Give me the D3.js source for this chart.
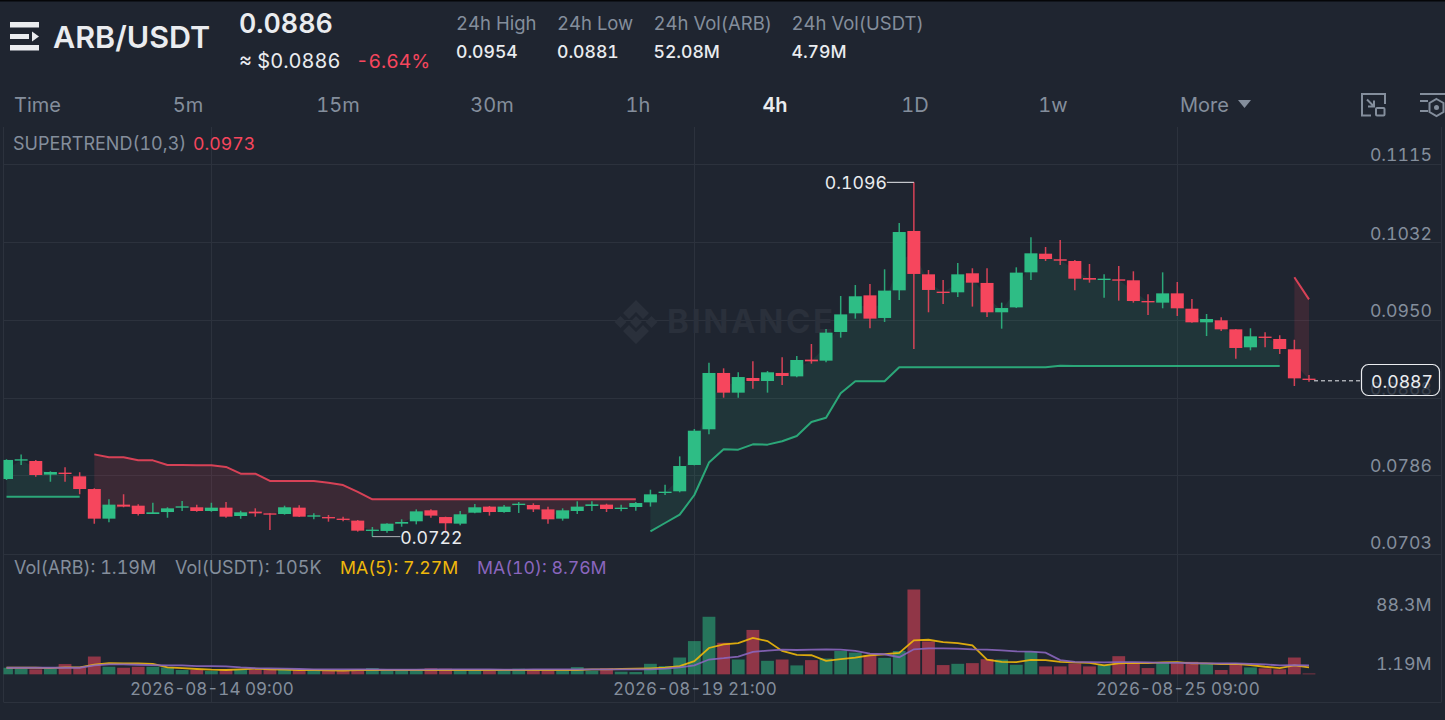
<!DOCTYPE html>
<html><head><meta charset="utf-8">
<style>
html,body{margin:0;padding:0;background:#1f2530;overflow:hidden}
text{font-family:Inter,"Noto Sans",sans-serif;font-feature-settings:"tnum"}
.axis path,.axis line{display:none}
</style>
<script src="https://cdn.jsdelivr.net/npm/d3@7/dist/d3.min.js"></script>
</head><body><svg id="c" width="1445" height="720"></svg>
<script>
const opens=[.07833,.08027,.08023,.07879,.07900,.07861,.07727,.07414,.07562,.07551,
.07463,.07484,.07530,.07534,.07495,.07530,.07442,.07488,.07470,.07463,
.07530,.07435,.07431,.07414,.07393,.07284,.07284,.07361,.07386,.07502,
.07431,.07361,.07477,.07541,.07484,.07558,.07558,.07512,.07414,.07495,
.07548,.07562,.07516,.07537,.07586,.07685,.07703,.07981,.08358,.08953,
.08745,.08900,.08868,.08953,.08917,.09094,.09083,.09386,.09583,.09773,
.09534,.09826,.10453,.09995,.09812,.09805,.10006,.09904,.09594,.09646,
.10016,.10213,.10154,.10136,.09956,.09935,.09942,.09932,.09713,.09696,
.09794,.09632,.09488,.09509,.09414,.09224,.09337,.09312,.09203,.08893];
const closes=[.08034,.08041,.07875,.07907,.07886,.07727,.07414,.07562,.07541,.07463,
.07481,.07523,.07544,.07495,.07530,.07435,.07481,.07470,.07456,.07534,
.07435,.07449,.07417,.07400,.07287,.07298,.07361,.07379,.07491,.07446,
.07365,.07460,.07534,.07484,.07541,.07572,.07512,.07407,.07502,.07541,
.07565,.07516,.07530,.07579,.07671,.07699,.07970,.08343,.08953,.08745,
.08910,.08868,.08960,.08921,.09090,.09076,.09379,.09572,.09763,.09527,
.09823,.10442,.09999,.09830,.09798,.09995,.09907,.09594,.09639,.10013,
.10217,.10157,.10139,.09949,.09939,.09949,.09928,.09713,.09699,.09794,
.09636,.09488,.09523,.09414,.09217,.09340,.09323,.09206,.08896,.08879];
const highs=[.08041,.08093,.08034,.07914,.07956,.07903,.07734,.07618,.07671,.07565,
.07583,.07534,.07600,.07562,.07583,.07590,.07498,.07523,.07470,.07551,
.07555,.07470,.07453,.07435,.07400,.07326,.07365,.07407,.07512,.07512,
.07435,.07495,.07569,.07548,.07558,.07590,.07576,.07541,.07523,.07597,
.07597,.07572,.07562,.07590,.07720,.07773,.08072,.08361,.09062,.09002,
.08960,.09076,.08974,.09118,.09132,.09259,.09418,.09766,.09882,.09893,
.10048,.10537,.10967,.10041,.09935,.10115,.10059,.10059,.09696,.10069,
.10386,.10284,.10358,.10146,.10104,.09995,.10083,.10027,.09784,.10016,
.09914,.09734,.09576,.09541,.09418,.09425,.09382,.09351,.09305,.08932];
const lows=[.07822,.07981,.07857,.07805,.07805,.07671,.07361,.07375,.07534,.07446,
.07463,.07424,.07495,.07488,.07488,.07424,.07414,.07435,.07294,.07456,
.07431,.07407,.07382,.07386,.07277,.07224,.07266,.07329,.07354,.07424,
.07277,.07343,.07470,.07446,.07477,.07474,.07484,.07361,.07393,.07463,
.07495,.07484,.07491,.07498,.07541,.07664,.07692,.07977,.08305,.08692,
.08692,.08787,.08745,.08826,.08907,.09051,.09065,.09326,.09527,.09425,
.09492,.09724,.09206,.09594,.09682,.09756,.09654,.09544,.09421,.09639,
.09935,.10136,.10094,.09826,.09907,.09748,.09717,.09696,.09565,.09636,
.09555,.09484,.09343,.09396,.09104,.09192,.09224,.09153,.08815,.08861];
const trendUp=[.07646,.07646,.07646,.07646,.07646,.07646,null,null,null,null,
null,null,null,null,null,null,null,null,null,null,
null,null,null,null,null,null,null,null,null,null,
null,null,null,null,null,null,null,null,null,null,
null,null,null,null,.07280,.07368,.07456,.07664,.08006,.08146,
.08143,.08199,.08196,.08231,.08287,.08435,.08480,.08738,.08865,.08865,
.08865,.09013,.09013,.09013,.09013,.09013,.09013,.09013,.09013,.09013,
.09013,.09013,.09030,.09027,.09027,.09027,.09027,.09027,.09027,.09027,
.09027,.09027,.09027,.09027,.09027,.09027,.09027,.09027,null,null];
const trendDown=[null,null,null,null,null,null,.08093,.08062,.08062,.08030,
.08030,.07981,.07981,.07977,.07977,.07960,.07889,.07889,.07812,.07812,
.07812,.07812,.07794,.07769,.07696,.07618,.07618,.07618,.07618,.07618,
.07618,.07618,.07618,.07618,.07618,.07618,.07618,.07618,.07618,.07618,
.07618,.07618,.07618,.07618,null,null,null,null,null,null,
null,null,null,null,null,null,null,null,null,null,
null,null,null,null,null,null,null,null,null,null,
null,null,null,null,null,null,null,null,null,null,
null,null,null,null,null,null,null,null,.09964,.09731];
const volumes=[9.8,8.4,7.4,8.4,15.3,9.8,26.6,11.3,9.8,11.3,
11.3,10.3,6.4,6.4,4.9,7.4,6.4,7.4,7.4,7.4,
6.4,5.4,5.4,5.4,5.4,9.3,4.9,5.4,5.4,8.9,
8.4,7.4,7.4,5.4,5.4,8.4,5.4,5.4,5.4,10.8,
5.4,8.9,3.9,3.4,15.7,12.3,25.1,49.7,86.1,47.2,
22.1,66.4,20.2,22.1,13.3,21.2,23.6,34.9,32.5,28.5,
24.6,34.9,126.9,49.2,13.8,15.7,16.7,22.6,22.1,14.3,
33.9,11.8,11.8,16.2,11.8,14.3,27.1,17.7,9.3,17.2,
16.2,18.7,15.3,6.4,15.3,10.3,8.9,7.4,25.1,1.19];
const ma5=[9.8,9.8,9.8,9.3,10.3,10.3,14.3,16.7,16.2,16.2,
15.7,10.3,9.3,7.9,6.9,6.4,7.4,8.4,7.4,6.9,
6.4,6.4,5.9,5.4,6.4,6.4,6.4,6.4,6.4,6.4,
6.4,6.4,6.4,6.4,6.4,6.4,6.4,6.4,6.4,6.4,
7.4,7.4,7.9,8.4,8.9,9.8,12.3,19.7,39.4,44.8,
46.7,54.6,49.7,34.9,29.0,28.5,20.2,22.6,25.1,28.5,
30.0,32.0,50.7,51.7,48.2,46.7,43.3,22.1,18.7,18.2,
21.6,21.2,18.7,17.7,17.2,13.3,16.2,17.2,16.7,17.7,
18.2,16.2,16.2,15.3,15.7,13.8,11.3,9.3,13.3,10.3];
const ma10=[9.8,9.8,9.8,9.8,9.8,9.8,13.3,14.8,14.8,14.3,
13.8,13.3,13.3,12.3,12.3,11.8,10.3,9.3,8.9,8.4,
7.9,7.4,7.4,7.4,7.4,7.4,6.9,6.9,6.9,7.4,
7.4,7.4,7.4,7.4,6.9,6.9,7.4,7.4,7.4,7.4,
7.4,7.4,7.4,7.4,7.4,8.4,10.3,13.3,22.1,24.1,
26.6,33.5,35.4,36.9,36.4,36.9,37.4,36.9,34.9,31.0,
30.0,25.6,37.4,38.9,38.9,38.4,37.4,36.9,35.9,34.4,
33.9,32.5,21.2,18.7,18.2,17.7,18.2,18.2,17.7,17.2,
17.2,16.7,16.2,16.2,16.2,15.7,14.8,13.3,13.8,13.3];
const priceTicks=[0.1115,0.1032,0.0950,0.0868,0.0786,0.0703];
const volumeTicks=[88.3,1.19];
const volumeTickLabels=["88.3M","1.19M"];
const timeTickIndex=[14,47,80];
const timeTickLabels=["2026-08-14 09:00","2026-08-19 21:00","2026-08-25 09:00"];
const intervals=["5m","15m","30m","1h","4h","1D","1w"];
const stats=[["24h High","0.0954"],["24h Low","0.0881"],["24h Vol(ARB)","52.08M"],["24h Vol(USDT)","4.79M"]];
const lastPrice=0.0887;

const GREEN="#2EBD85",RED="#F6465D",GREY="#848E9C",GRID="#2c323d",WHITE="#EAECEF",BG="#1f2530";
const svg=d3.select("#c");
const idx=d3.range(opens.length);
const x=d3.scaleLinear().domain([0,89]).range([6.5,1309]);
const y=d3.scaleLinear().domain([0.0703,0.1115]).range([555,165]);
const yV=d3.scaleLinear().domain([1.19,88.3]).range([673.5,615.3]);

svg.append("rect").attr("width",1445).attr("height",1.5).attr("fill","#050608");
const defs=svg.append("defs");
defs.append("clipPath").attr("id","pl").append("rect").attr("x",3.5).attr("y",127).attr("width",1438).attr("height",575);

// header
svg.append("g").attr("fill",WHITE).selectAll("rect").data([22,45]).join("rect")
 .attr("x",10).attr("y",d=>d).attr("width",29).attr("height",5.5);
svg.append("rect").attr("x",10).attr("y",34).attr("width",19).attr("height",5).attr("fill",WHITE);
svg.append("path").attr("d","M32 31.5L39 36.5L32 41.5Z").attr("fill",WHITE);
const T=(s,x0,yy,sz,col,w,anchor)=>svg.append("text").text(s).attr("x",x0).attr("y",yy).attr("font-size",sz).attr("fill",col).attr("font-weight",w||400).attr("text-anchor",anchor||"start");
T("ARB/USDT",53,48,30.5,WHITE,600);
T("0.0886",239,33,26.8,WHITE,600);
T("≈ $0.0886",239,68,20,WHITE,400);
T("-6.64%",356,68,19.3,RED,400);
[456,557,653.5,791.5].forEach((px,i)=>{T(stats[i][0],px,30,18.5,GREY);T(stats[i][1],px,58,17.6,WHITE,500);});
T("Time",14,112,20,GREY);
[188,338,492,638,775,915,1053].forEach((px,i)=>T(intervals[i],px,112,20,i==4?WHITE:GREY,i==4?600:400,"middle"));
T("More",1180,112,20,GREY);
svg.append("path").attr("d","M1238 100L1251 100L1244.5 108Z").attr("fill",GREY);
// toolbar icons
svg.append("path").attr("d","M1362 104V94H1385V104M1371 115.5H1362V104M1367 99.5L1374 106.5M1374 100.5V106.5H1368").attr("fill","none").attr("stroke",GREY).attr("stroke-width",2);
svg.append("rect").attr("x",1376).attr("y",108).attr("width",8.5).attr("height",7.5).attr("fill","none").attr("stroke",GREY).attr("stroke-width",2).attr("rx",1);
svg.append("path").attr("d","M1420 94H1445M1420 101H1428M1420 111H1428").attr("stroke",GREY).attr("stroke-width",2);
svg.append("path").attr("d","M1436.5 99L1443.5 103V112L1436.5 116L1429.5 112V103Z").attr("fill","none").attr("stroke",GREY).attr("stroke-width",2);
svg.append("circle").attr("cx",1436.5).attr("cy",107.5).attr("r",2.5).attr("fill",GREY);

// grid
const gy=d=>Math.floor(y(d)-.7)+.5;
const grid=svg.append("g").attr("stroke",GRID).attr("stroke-width",1);
grid.selectAll("line.h").data(priceTicks).join("line").attr("class","h").attr("x1",3.5).attr("x2",1441.5).attr("y1",gy).attr("y2",gy);
grid.append("line").attr("x1",3.5).attr("x2",1441.5).attr("y1",702.5).attr("y2",702.5);
grid.selectAll("line.v").data(timeTickIndex).join("line").attr("class","v").attr("x1",d=>Math.round(x(d))+.5).attr("x2",d=>Math.round(x(d))+.5).attr("y1",127).attr("y2",702);
grid.append("line").attr("x1",3.5).attr("x2",3.5).attr("y1",127).attr("y2",702);
grid.append("line").attr("x1",1441.5).attr("x2",1441.5).attr("y1",127).attr("y2",702);

// watermark
const wm="#2a303b";
svg.append("path").attr("fill",wm).attr("d","M636 322m0-22l13 13-6 6-7-7-7 7-6-6zM614.5 322l6-6 6 6-6 6zM645.5 322l6-6 6 6-6 6zM636 316l6 6-6 6-6-6zM636 344l-13-13 6-6 7 7 7-7 6 6z");
svg.append("text").text("BINANCE").attr("x",667).attr("y",333).attr("font-size",33).attr("font-weight",700).attr("letter-spacing",2.6).attr("fill",wm);

// supertrend
const plot=svg.append("g").attr("clip-path","url(#pl)");
const mids=idx.map(i=>(opens[i]+closes[i])/2);
function trend(arr,col,fop){
 plot.append("path").datum(idx).attr("fill",col).attr("fill-opacity",fop)
  .attr("d",d3.area().defined(i=>arr[i]!=null).x(i=>x(i)).y0(i=>y(arr[i])).y1(i=>y(mids[i])));
 plot.append("path").datum(idx).attr("fill","none").attr("stroke",col).attr("stroke-opacity",.85).attr("stroke-width",2).attr("stroke-linejoin","round")
  .attr("d",d3.line().defined(i=>arr[i]!=null).x(i=>x(i)).y(i=>y(arr[i])));
}
trend(trendUp,GREEN,.11);
trend(trendDown,RED,.13);

// candles
const col=i=>closes[i]>=opens[i]?GREEN:RED;
const candles=plot.append("g");
candles.selectAll("line").data(idx).join("line").attr("x1",i=>x(i)).attr("x2",i=>x(i)).attr("y1",i=>y(highs[i])).attr("y2",i=>y(lows[i])).attr("stroke",col).attr("stroke-width",1.5).attr("stroke-opacity",.85);
candles.selectAll("rect").data(idx).join("rect").attr("x",i=>x(i)-6.5).attr("width",13)
 .attr("y",i=>y(Math.max(opens[i],closes[i]))).attr("height",i=>Math.max(1.3,Math.abs(y(opens[i])-y(closes[i])))).attr("fill",col);

// hi/lo marks
const hiI=d3.greatestIndex(highs),loI=d3.leastIndex(lows);
svg.append("path").attr("d",`M${x(hiI)} ${y(highs[hiI])}H${x(hiI)-27}`).attr("stroke",WHITE).attr("stroke-width",1).attr("fill","none");
T("0.1096",x(hiI)-27,y(highs[hiI])+7,17.7,WHITE,400,"end");
svg.append("path").attr("d",`M${x(loI)} ${y(lows[loI])}H${x(loI)+28}`).attr("stroke",WHITE).attr("stroke-width",1).attr("fill","none").attr("stroke-opacity",.7);
T("0.0722",x(loI)+28,y(lows[loI])+7,17.7,WHITE,400);

// volume
const vg=plot.append("g");
vg.selectAll("rect").data(idx).join("rect").attr("x",i=>x(i)-6.4).attr("width",12.8)
 .attr("y",i=>yV(volumes[i])).attr("height",i=>yV(0)-yV(volumes[i])).attr("fill",col).attr("fill-opacity",.53);
const lineV=a=>d3.line().x(i=>x(i)).y(i=>yV(a[i]));
plot.append("path").datum(idx).attr("fill","none").attr("stroke","#F0B90B").attr("stroke-opacity",.9).attr("stroke-width",1.8).attr("d",lineV(ma5));
plot.append("path").datum(idx).attr("fill","none").attr("stroke","#8A66BE").attr("stroke-opacity",.9).attr("stroke-width",1.8).attr("d",lineV(ma10));

// axes
const pa=svg.append("g").attr("class","axis").attr("transform","translate(1432,0)")
 .call(d3.axisLeft(y).tickValues(priceTicks).tickSize(0).tickPadding(0).tickFormat(d3.format(".4f")));
pa.selectAll("text").attr("dy",null).attr("y",(d,i)=>i==5?-6.5:-4.5).attr("font-size",17.7).attr("fill",GREY);
const va=svg.append("g").attr("class","axis").attr("transform","translate(1431.5,0)")
 .call(d3.axisLeft(yV).tickValues(volumeTicks).tickSize(0).tickPadding(0).tickFormat((d,i)=>volumeTickLabels[i]));
va.selectAll("text").attr("dy",null).attr("y",-4.5).attr("font-size",17.8).attr("fill",GREY);
const xa=svg.append("g").attr("class","axis").attr("transform","translate(0,672)")
 .call(d3.axisBottom(x).tickValues(timeTickIndex).tickSize(0).tickPadding(0).tickFormat((d,i)=>timeTickLabels[i]));
xa.selectAll("text").attr("dy",null).attr("y",23).attr("font-size",17.05).attr("fill",GREY);
svg.selectAll(".axis").attr("font-family",null).attr("font-size",null);

// last price
svg.append("line").attr("x1",x(89)+5).attr("x2",1361).attr("y1",y(lastPrice)).attr("y2",y(lastPrice)).attr("stroke",WHITE).attr("stroke-width",1).attr("stroke-dasharray","4 3");
svg.append("rect").attr("x",1361.5).attr("y",364.5).attr("width",78).attr("height",31).attr("rx",7).attr("fill",BG).attr("fill-opacity",.72).attr("stroke",WHITE).attr("stroke-width",1.2);
T("0.0887",1402,387.5,17.7,WHITE,400,"middle");

// legends
T("SUPERTREND(10,3)",13,150,18,GREY);
T("0.0973",193,150,17.7,RED);
T("Vol(ARB): 1.19M",14,574,18,GREY);
T("Vol(USDT): 105K",175,574,18,GREY);
T("MA(5): 7.27M",340,574,17.7,"#F0B90B");
T("MA(10): 8.76M",477,574,17.7,"#8A66BE");
</script></body></html>
